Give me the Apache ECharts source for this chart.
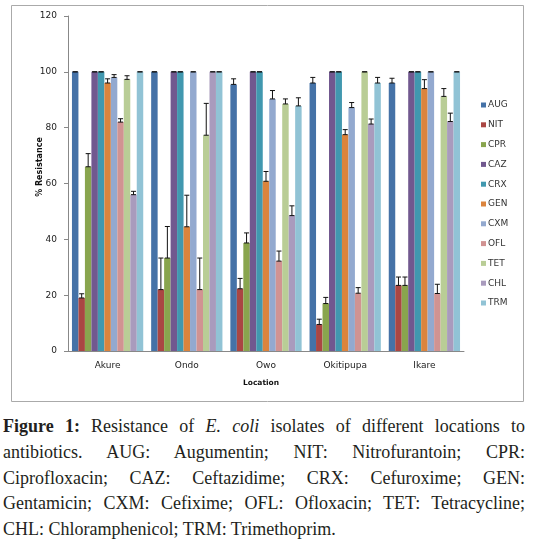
<!DOCTYPE html>
<html>
<head>
<meta charset="utf-8">
<script src="https://cdn.jsdelivr.net/npm/echarts@6/dist/echarts.min.js"></script>
<style>
    html, body { margin: 0; padding: 0; background: #fff; }
    #chart { position: absolute; left: 0; top: 0; width: 533px; height: 410px; }
    #caption {
        position: absolute; left: 3px; top: 414px; width: 522px;
        font-family: "Liberation Serif", serif; font-size: 18px; line-height: 25.8px; color: #231f20;
    }
    #caption div { white-space: nowrap; text-align: justify; text-align-last: justify; }
    #caption div.last { text-align-last: left; }
</style>
</head>
<body>
<div id="chart"></div>
<div id="caption">
    <div><b>Figure 1:</b> Resistance of <i>E. coli</i> isolates of different locations to</div>
    <div>antibiotics. AUG: Augumentin; NIT: Nitrofurantoin; CPR:</div>
    <div>Ciprofloxacin; CAZ: Ceftazidime; CRX: Cefuroxime; GEN:</div>
    <div>Gentamicin; CXM: Cefixime; OFL: Ofloxacin; TET: Tetracycline;</div>
    <div class="last">CHL: Chloramphenicol; TRM: Trimethoprim.</div>
</div>
<script>
//类别
var locations = ['Akure', 'Ondo', 'Owo', 'Okitipupa', 'Ikare'];
var drugs = ['AUG', 'NIT', 'CPR', 'CAZ', 'CRX', 'GEN', 'CXM', 'OFL', 'TET', 'CHL', 'TRM'];
var yTicks = [0, 20, 40, 60, 80, 100, 120];

//每种抗生素在各地的耐药率 (%)
var AUG = [100, 100, 95.5, 96, 96];
var NIT = [19, 22, 22.3, 9.5, 23.5];
var CPR = [66, 33.3, 38.7, 17, 23.5];
var CAZ = [100, 100, 100, 100, 100];
var CRX = [100, 100, 100, 100, 100];
var GEN = [96, 44.5, 60.8, 77.5, 94];
var CXM = [98, 100, 90.3, 87.2, 100];
var OFL = [82, 22, 32.2, 20.7, 20.6];
var TET = [97.3, 77.3, 88.5, 100, 91.2];
var CHL = [56, 100, 48.5, 81.3, 82.2];
var TRM = [100, 100, 87.8, 96, 100];

//误差线 (只画正方向)
var AUG_err = [0, 0, 2, 2, 1.7];
var NIT_err = [1.5, 11.3, 3.7, 1.9, 3];
var CPR_err = [4.7, 11.3, 3.6, 2.2, 3];
var CAZ_err = [0, 0, 0, 0, 0];
var CRX_err = [0, 0, 0, 0, 0];
var GEN_err = [1.5, 11.3, 3.5, 1.8, 3.2];
var CXM_err = [1, 0, 3, 1.8, 0];
var OFL_err = [1.2, 11.3, 3.6, 2, 3.3];
var TET_err = [1.3, 11.4, 1.8, 0, 2.8];
var CHL_err = [1.2, 0, 3.5, 1.8, 3];
var TRM_err = [0, 0, 2.9, 2, 0];

var values = [AUG, NIT, CPR, CAZ, CRX, GEN, CXM, OFL, TET, CHL, TRM];
var errors = [AUG_err, NIT_err, CPR_err, CAZ_err, CRX_err, GEN_err, CXM_err, OFL_err, TET_err, CHL_err, TRM_err];

var colors = ['#4572A7', '#AA4643', '#89A54E', '#71588F', '#4198AF', '#DB843D',
              '#93A9CF', '#D19392', '#B9CD96', '#A99BBD', '#91C3D5'];

var gapRatio = 0.1;
var font = 'DejaVu Sans';

var series = [];
drugs.forEach(function (name, i) {
    series.push({
        name: name,
        type: 'bar',
        data: values[i],
        barGap: '0%',
        barCategoryGap: (gapRatio * 100) + '%',
        itemStyle: { color: colors[i] },
        silent: true
    });
});

//误差线数据: [地点, 抗生素序号, 值, 误差]
var errData = [];
drugs.forEach(function (name, i) {
    locations.forEach(function (loc, j) {
        errData.push([j, i, values[i][j], errors[i][j]]);
    });
});

series.push({
    type: 'custom',
    name: 'err',
    data: errData,
    encode: { x: 0, y: 2 },
    z: 10,
    silent: true,
    renderItem: function (params, api) {
        var cat = api.value(0), d = api.value(1), v = api.value(2), e = api.value(3);
        var band = api.size([1, 0])[0];
        var bw = band * (1 - gapRatio) / drugs.length;
        var base = api.coord([cat, v]);
        var x = base[0] - band * (1 - gapRatio) / 2 + bw * (d + 0.5);
        var y0 = base[1];
        var y1 = api.coord([cat, v + e])[1];
        var style = { stroke: '#111', lineWidth: 1 };
        var cap = 2.5;
        return {
            type: 'group',
            children: [
                { type: 'line', shape: { x1: x, y1: y0, x2: x, y2: y1 }, style: style },
                { type: 'line', shape: { x1: x - cap, y1: y1, x2: x + cap, y2: y1 }, style: style },
                { type: 'line', shape: { x1: x - cap, y1: y0, x2: x + cap, y2: y0 }, style: style }
            ]
        };
    }
});

var myChart = echarts.init(document.getElementById('chart'), null, { renderer: 'canvas' });

var option = {
    animation: false,
    backgroundColor: '#fff',
    grid: { left: 68, top: 16, width: 396, height: 335 },
    legend: {
        data: drugs,
        orient: 'vertical',
        left: 481,
        top: 100,
        padding: 0,
        icon: 'rect',
        itemWidth: 5,
        itemHeight: 5,
        itemGap: 9.8,
        selectedMode: false,
        textStyle: { fontFamily: font, fontSize: 9, color: '#333', lineHeight: 10, padding: [0, 0, 0, -3] }
    },
    xAxis: {
        type: 'category',
        data: locations,
        axisLine: { lineStyle: { color: '#888' } },
        axisTick: { length: 4, lineStyle: { color: '#888' } },
        axisLabel: { fontFamily: font, fontSize: 9, color: '#222', margin: 10 }
    },
    yAxis: {
        type: 'value',
        min: yTicks[0],
        max: yTicks[yTicks.length - 1],
        interval: yTicks[1] - yTicks[0],
        axisLine: { show: true, lineStyle: { color: '#888' } },
        axisTick: { show: true, length: 4, lineStyle: { color: '#888' } },
        splitLine: { show: false },
        axisLabel: { fontFamily: font, fontSize: 9, color: '#222', margin: 11 }
    },
    graphic: [
        {
            type: 'rect',
            shape: { x: 11.5, y: 5.5, width: 512, height: 396 },
            style: { fill: 'none', stroke: '#aaa', lineWidth: 1 },
            silent: true
        },
        {
            type: 'text',
            x: 40, y: 167,
            rotation: Math.PI / 2,
            style: {
                text: '% Resistance', fontFamily: font, fontSize: 8, fontWeight: 'bold',
                fill: '#111', align: 'center', verticalAlign: 'middle'
            }
        },
        {
            type: 'text',
            x: 261, y: 383,
            style: {
                text: 'Location', fontFamily: font, fontSize: 7.5, fontWeight: 'bold',
                fill: '#111', align: 'center', verticalAlign: 'middle'
            }
        }
    ],
    series: series
};

myChart.setOption(option);
</script>
</body>
</html>
